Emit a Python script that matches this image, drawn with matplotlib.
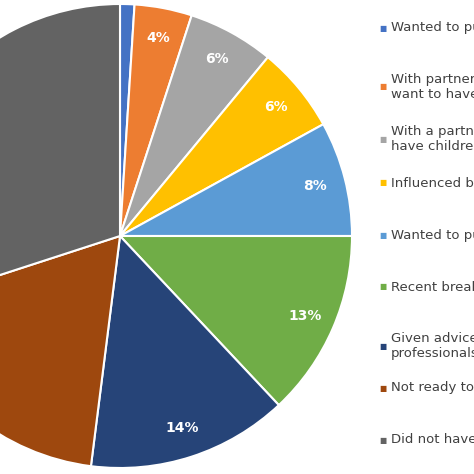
import matplotlib
matplotlib.use("Agg")
import matplotlib.pyplot as plt

labels = ["Wanted to pursue career",
          "With partner who did not\nwant to have children",
          "With a partner but did not\nhave children yet",
          "Influenced by friends",
          "Wanted to pursue education",
          "Recent breakdown of relationship",
          "Given advice by healthcare\nprofessionals",
          "Not ready to start a family",
          "Did not have a partner"]
values = [1, 4, 6, 6, 8, 13, 14, 18, 30]
colors = ["#4472C4", "#ED7D31", "#A5A5A5", "#FFC000", "#5B9BD5",
          "#70AD47", "#264478", "#9E480E", "#636363"]

fig = plt.figure(figsize=(4.74, 4.74), dpi=100)
ax = fig.add_axes([-112/474, 6/474, 464/474, 464/474])
wedges, texts, autotexts = ax.pie(
    values, colors=colors, startangle=90, counterclock=False,
    autopct=lambda p: f"{p:.0f}%" if 3 <= p < 16 else "", pctdistance=0.87,
    wedgeprops=dict(edgecolor="white", linewidth=1.5),
    textprops=dict(color="white", fontsize=10, fontweight="bold"))
ax.set_xlim(-1, 1); ax.set_ylim(-1, 1)
ax.set_aspect("equal")
ax.axis("off")

ys = [28, 87, 139, 183, 235, 287, 346, 388, 440]
for lab, c, y in zip(labels, colors, ys):
    fig.text(383/474, 1 - y/474, "■", color=c, fontsize=5.5, va="center", ha="center")
    fig.text(391/474, 1 - y/474, lab, color="#404040", fontsize=9.5, va="center",
             ha="left", linespacing=1.2)

fig.savefig("out.png", dpi=100)
